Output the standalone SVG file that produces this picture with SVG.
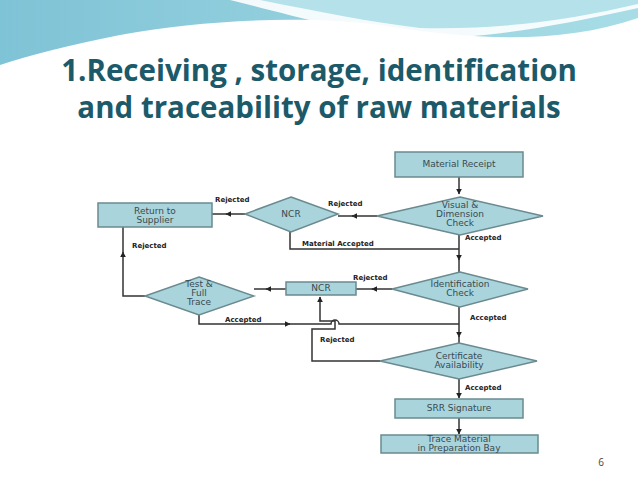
<svg xmlns="http://www.w3.org/2000/svg" width="638" height="479" viewBox="0 0 638 479">
<defs>
<linearGradient id="sky" x1="0" y1="0" x2="1" y2="0"><stop offset="0" stop-color="#7fc3d6"/><stop offset="1" stop-color="#a8dde6"/></linearGradient>
<marker id="ah" viewBox="0 0 10 10" refX="9" refY="5" markerWidth="4" markerHeight="4" orient="auto"><path d="M0,0 L10,5 L0,10 z" fill="#222"/></marker>
<style>
.n{fill:#a9d4dc;stroke:#6a8a90;stroke-width:1.5}
.t{font-family:"DejaVu Sans",sans-serif;font-size:9px;fill:#3a4a50;text-anchor:middle}
.l{font-family:"DejaVu Sans",sans-serif;font-size:7px;font-weight:bold;fill:#222}
.c{fill:none;stroke:#333;stroke-width:1.5}
</style>
</defs>
<rect width="638" height="479" fill="#fff"/>
<path d="M0,0 H638 V18 C560,45 470,40 380,25 C300,15 200,20 120,35 C70,45 30,55 0,65 Z" fill="url(#sky)"/>
<path d="M230,0 C290,15 340,30 410,38 C470,40 540,30 638,8 V0 Z" fill="#fff" opacity="0.9"/>
<path d="M260,0 C320,12 370,22 420,28 C500,30 570,20 638,4 V0 Z" fill="#b5e2ea"/>
<text x="319" y="81" font-family="'Open Sans',sans-serif" font-size="29.5" font-weight="bold" fill="#1c5a6a" text-anchor="middle">1.Receiving , storage, identification</text>
<text x="319" y="118" font-family="'Open Sans',sans-serif" font-size="29.5" font-weight="bold" fill="#1c5a6a" text-anchor="middle">and traceability of raw materials</text>
<text x="601" y="466" font-family="'Open Sans',sans-serif" font-size="10" fill="#444" text-anchor="middle">6</text>
<g id="connectors">
<path class="c" d="M459,177 V194" marker-end="url(#ah)"/>
<path class="c" d="M377,216 H352" marker-end="url(#ah)"/><path class="c" d="M355,216 H338"/>
<path class="c" d="M245,214 H226" marker-end="url(#ah)"/><path class="c" d="M228,214 H212"/>
<path class="c" d="M290,232 V249 H459"/>
<path class="c" d="M459,235 V260" marker-end="url(#ah)"/><path class="c" d="M459,258 V272"/>
<path class="c" d="M392,289 H372" marker-end="url(#ah)"/><path class="c" d="M374,289 H356"/>
<path class="c" d="M286,289 H266" marker-end="url(#ah)"/><path class="c" d="M268,289 H254"/>
<path class="c" d="M145,296 H123 V252" marker-end="url(#ah)"/><path class="c" d="M123,254 V227"/>
<path class="c" d="M199,315 V324 H290" marker-end="url(#ah)"/><path class="c" d="M288,324 H331 A4,4 0 0 1 339,324 H459"/>
<path class="c" d="M459,307 V337" marker-end="url(#ah)"/><path class="c" d="M459,335 V343"/>
<path class="c" d="M380,361 H312 V329 H335 V321 H320 V297" marker-end="url(#ah)"/>
<path class="c" d="M459,379 V398" marker-end="url(#ah)"/>
<path class="c" d="M459,418 V434" marker-end="url(#ah)"/>
</g>
<g id="material-receipt"><rect class="n" x="395" y="152" width="128" height="25"/><text class="t" x="459" y="167">Material Receipt</text></g>
<g id="visual-check"><polygon class="n" points="460,197 543,216 460,235 377,216"/><text class="t" x="460" y="208">Visual &amp;</text><text class="t" x="460" y="217">Dimension</text><text class="t" x="460" y="226">Check</text></g>
<g id="ncr1"><polygon class="n" points="291,197 338,214 291,232 245,214"/><text class="t" x="291" y="217">NCR</text></g>
<g id="return-supplier"><rect class="n" x="98" y="203" width="114" height="24"/><text class="t" x="155" y="214" font-size="10">Return to</text><text class="t" x="155" y="223" font-size="10">Supplier</text></g>
<g id="identification-check"><polygon class="n" points="460,272 528,289 460,307 392,289"/><text class="t" x="460" y="287">Identification</text><text class="t" x="460" y="296">Check</text></g>
<g id="ncr2"><rect class="n" x="286" y="282" width="70" height="13"/><text class="t" x="321" y="291">NCR</text></g>
<g id="test-trace"><polygon class="n" points="199,277 254,296 199,315 145,296"/><text class="t" x="199" y="287">Test &amp;</text><text class="t" x="199" y="296">Full</text><text class="t" x="199" y="305">Trace</text></g>
<g id="certificate"><polygon class="n" points="459,343 537,361 459,379 380,361"/><text class="t" x="459" y="359">Certificate</text><text class="t" x="459" y="368">Availability</text></g>
<g id="srr"><rect class="n" x="395" y="399" width="128" height="19"/><text class="t" x="459" y="411">SRR Signature</text></g>
<g id="trace-material"><rect class="n" x="381" y="435" width="157" height="18"/><text class="t" x="459" y="442" font-size="7">Trace Material</text><text class="t" x="459" y="451" font-size="7">in Preparation Bay</text></g>
<g id="labels">
<text class="l" x="215" y="202">Rejected</text>
<text class="l" x="328" y="206">Rejected</text>
<text class="l" x="302" y="246" font-size="8">Material Accepted</text>
<text class="l" x="465" y="240">Accepted</text>
<text class="l" x="132" y="248">Rejected</text>
<text class="l" x="353" y="280">Rejected</text>
<text class="l" x="225" y="322">Accepted</text>
<text class="l" x="470" y="320">Accepted</text>
<text class="l" x="320" y="342">Rejected</text>
<text class="l" x="465" y="390">Accepted</text>
</g>
</svg>
